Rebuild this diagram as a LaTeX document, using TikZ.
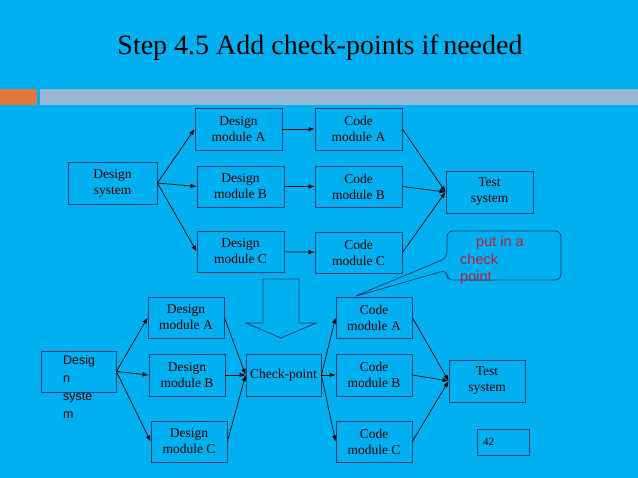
\documentclass[tikz,border=0pt]{standalone}
\usepackage{fontspec}
\setmainfont{Liberation Serif}
\newfontfamily\sansf{Liberation Sans}
\usetikzlibrary{arrows.meta}
\definecolor{bg}{RGB}{0,176,240}
\definecolor{edge}{RGB}{20,60,110}
\definecolor{callred}{RGB}{190,30,60}
\definecolor{barg}{RGB}{150,182,210}
\definecolor{baro}{RGB}{225,120,60}
\begin{document}
\begin{tikzpicture}[x=1pt,y=-1pt,
  bx/.style={draw=edge,line width=0.8pt,fill=bg,align=center,inner sep=0pt,font=\fontsize{13.5}{16}\selectfont},
  ar/.style={-{Latex[length=6pt,width=4.5pt]},line width=0.7pt,black}]
\useasboundingbox (0,0) rectangle (638,478);
\fill[bg] (0,0) rectangle (638,478);
\node[font=\fontsize{28}{32}\selectfont] (title) at (320,48) {Step 4.5 Add check-points if\,needed};
\fill[baro] (0,89) rectangle (37,105);
\fill[barg] (40,89) rectangle (638,105);
\newcommand{\bx}[6]{\node[bx,minimum width=#4-#2,minimum height=#5-#3] (#1) at ({(#2+#4)/2},{(#3+#5)/2}) {#6};}
% top
\bx{ds}{68}{162}{157}{204}{Design\\system}
\bx{dA}{195}{108}{282}{150}{Design\\module A}
\bx{dB}{197}{166}{284}{207}{Design\\module B}
\bx{dC}{197}{231}{284}{272}{Design\\module C}
\bx{cA}{315}{108}{402}{150}{Code\\module A}
\bx{cB}{315}{166}{402}{207}{Code\\module B}
\bx{cC}{315}{232}{402}{273}{Code\\module C}
\bx{ts}{446}{171}{533}{213}{Test\\system}
\foreach \n in {dA,dB,dC} \draw[ar] (ds.east) -- (\n.west);
\draw[ar] (dA) -- (cA); \draw[ar] (dB) -- (cB); \draw[ar] (dC) -- (cC);
\foreach \n in {cA,cB,cC} \draw[ar] (\n.east) -- (ts.west);
% callout
\coordinate (tip) at (353,297);
\draw[edge,line width=0.8pt,fill=bg,rounded corners=6pt] (447,231) -- (561,231) -- (561,280) -- (447,280) -- (447,270) -- (tip) -- (447,258) -- cycle;
\node[anchor=north west,align=left,text=callred,font=\sansf\fontsize{14.5}{17.5}\selectfont,inner sep=0pt] (ct) at (460,236) {\hspace{16pt}put in a\\check\\point};
% big arrow
\draw[edge,line width=0.8pt,fill=bg] (263,279) -- (299,279) -- (299,323) -- (316,323) -- (281,338) -- (246,323) -- (263,323) -- cycle;
% bottom
\node[draw=edge,line width=0.8pt,fill=bg,minimum width=75pt,minimum height=41pt] (ds2) at (78.5,371.5) {};
\node[anchor=north west,align=left,inner sep=0pt,font=\sansf\fontsize{12.5}{18}\selectfont] (dst) at (63,355) {Desig\\n\\syste\\m};
\bx{eA}{148}{297}{224}{338}{Design\\module A}
\bx{eB}{149}{354}{225}{396}{Design\\module B}
\bx{eC}{151}{421}{227}{462}{Design\\module C}
\bx{cp}{246}{354}{321}{396}{Check-point}
\bx{fA}{336}{297}{412}{338}{Code\\module A}
\bx{fB}{336}{354}{412}{396}{Code\\module B}
\bx{fC}{336}{421}{412}{462}{Code\\module C}
\bx{ts2}{449}{360}{525}{402}{Test\\system}
\foreach \n in {eA,eB,eC} {\draw[ar] (ds2.east) -- (\n.west); \draw[ar] (\n.east) -- (cp.west);}
\foreach \n in {fA,fB,fC} {\draw[ar] (cp.east) -- (\n.west); \draw[ar] (\n.east) -- (ts2.west);}
\node[draw=edge,line width=0.8pt,fill=bg,minimum width=52pt,minimum height=26pt,inner sep=0pt] (pg) at (503,442) {};
\node[anchor=west,font=\fontsize{11}{13}\selectfont,inner sep=0pt] (pgt) at (483,442) {42};
\end{tikzpicture}
\end{document}
